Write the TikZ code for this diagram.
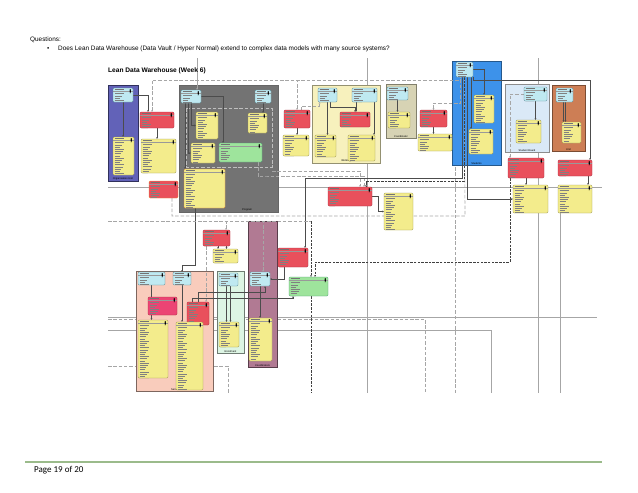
\documentclass[tikz,border=0pt]{standalone}
\usepackage{fontspec}
\setmainfont{Liberation Sans}
\newfontfamily\footfont{Carlito}
\usetikzlibrary{arrows.meta}

\definecolor{entY}{HTML}{F3EC8C}\definecolor{entYd}{HTML}{9C9650}
\definecolor{entB}{HTML}{BFE9F1}\definecolor{entBd}{HTML}{5C8C98}
\definecolor{entR}{HTML}{E9505C}\definecolor{entRd}{HTML}{A83040}
\definecolor{entG}{HTML}{9EE49C}\definecolor{entGd}{HTML}{4C9C74}
\definecolor{entO}{HTML}{E88A30}
\definecolor{grOrg}{HTML}{6262B8}\definecolor{grProg}{HTML}{737373}
\definecolor{grWork}{HTML}{F7F1BD}\definecolor{grCoor}{HTML}{D7D3B4}
\definecolor{grStud}{HTML}{3D92EA}\definecolor{grBoard}{HTML}{DAE9F7}
\definecolor{grUnit}{HTML}{CD7E55}\definecolor{grSer}{HTML}{F9CCBC}
\definecolor{grEnr}{HTML}{DDF5E4}\definecolor{grMauve}{HTML}{B17A93}
\definecolor{footgreen}{HTML}{9BBB8B}

\pgfdeclarelayer{bg}\pgfdeclarelayer{grp}\pgfdeclarelayer{cnl}
\pgfsetlayers{bg,grp,cnl,main}

\tikzset{
  erlines/.style={path picture={
    \draw[black!55, line width=0.3pt] ([shift={(1.5pt,-1.5pt)}]path picture bounding box.north west) -- ++(9pt,0);
    \draw[black!40, line width=0.3pt] ([yshift=-3pt]path picture bounding box.north west) -- ([yshift=-3pt]path picture bounding box.north east);
    \foreach \k in {1,...,30}
      \draw[black!50, line width=0.3pt] ([shift={(1.6pt,-3.3pt-\k*2.2pt)}]path picture bounding box.north west) -- ++({5pt+mod(\k*5,7)*0.8pt},0);
    \fill[black] ([shift={(-2.2pt,-1.2pt)}]path picture bounding box.north east) rectangle ++(-1.2pt,-4pt);
  }},
  ent/.style={draw, rounded corners=1.2pt, line width=0.4pt, anchor=north west, inner sep=0pt, outer sep=0pt, erlines},
  yent/.style={ent, fill=entY, draw=entYd},
  bent/.style={ent, fill=entB, draw=entBd},
  rent/.style={ent, fill=entR, draw=entRd},
  gent/.style={ent, fill=entG, draw=entGd},
  sz/.style 2 args={minimum width=#1pt, minimum height=#2pt},
  grp/.style={draw, line width=0.4pt, anchor=north west, inner sep=0pt, outer sep=0pt},
  glab/.style={font=\fontsize{2.6}{3}\selectfont, anchor=south, inner sep=0.5pt},
  ln/.style={black!35, line width=0.5pt},
  dl/.style={black!35, dash pattern=on 3.5pt off 1.8pt, line width=0.6pt},
  dd/.style={black!75, dash pattern=on 2.5pt off 1.2pt, line width=0.5pt},
  cn/.style={black!70, line width=0.4pt},
}

\begin{document}
\begin{tikzpicture}[x=1pt,y=-1pt,>={Stealth[length=1.8pt,width=1.6pt]}]
\useasboundingbox (0,0) rectangle (638,493);

% page text
\node[anchor=west, inner sep=0pt, font=\fontsize{6.4}{7}\selectfont] (quest) at (30,40) {Questions:};
\node[anchor=west, inner sep=0pt, font=\fontsize{6.4}{7}\selectfont] (bul) at (47,49) {•};
\node[anchor=west, inner sep=0pt, font=\fontsize{6.4}{7}\selectfont] (qtext) at (58,49) {Does Lean Data Warehouse (Data Vault / Hyper Normal) extend to complex data models with many source systems?};
\node[anchor=west, inner sep=0pt, font=\bfseries\fontsize{6.6}{7}\selectfont] (title) at (108,71) {Lean Data Warehouse (Week 6)};

% groups
\begin{pgfonlayer}{grp}
\node[grp, fill=grOrg, draw=grOrg!50!black, sz={30}{96}] (gorg) at (108,85) {};
\node[grp, fill=grProg, draw=black!60, sz={99}{127}] (gprog) at (179,85) {};
\node[grp, fill=grWork, draw=grWork!60!black, sz={68}{78}] (gwork) at (312,85) {};
\node[grp, fill=grCoor, draw=grCoor!60!black, sz={30}{54}] (gcoor) at (386,84) {};
\node[grp, fill=grStud, draw=grStud!60!black, sz={49}{104}] (gstud) at (452,61) {};
\node[grp, fill=grBoard, draw=black!45, sz={44}{68}] (gboard) at (505,84) {};
\node[grp, fill=grUnit, draw=grUnit!60!black, sz={33}{66}] (gunit) at (552,85) {};
\node[grp, fill=grSer, draw=grSer!50!black, sz={77}{120}] (gser) at (136,271) {};
\node[grp, fill=grEnr, draw=grEnr!50!black, sz={27}{82}] (genr) at (217,271) {};
\node[grp, fill=grMauve, draw=grMauve!50!black, sz={29}{146}] (gmauve) at (248,221) {};
\node[glab] at (gorg.south) {Organisation Unit};
\node[glab] at (gprog.south -| 247,0) {Program};
\node[glab] at (gwork.south) {Working};
\node[glab] at (gcoor.south) {Coordinator};
\node[glab] at (gstud.south) {Students};
\node[glab] at (gboard.south) {Student Board};
\node[glab] at (gunit.south) {Unit};
\node[glab] at (gser.south) {Serial};
\node[glab] at (genr.south) {Enrolment};
\node[glab] at (gmauve.south) {Coordinators};
\draw[dl, black!25] (186,108) rectangle (272,167); % inner box in Program
\end{pgfonlayer}

% entities
\node[bent, sz={20}{14}] (p1) at (113,88) {};
\node[yent, sz={21}{38}] (p2) at (113,137) {};
\node[rent, sz={34}{16}] (r1) at (140,112) {};
\node[yent, sz={35}{34}] (y1) at (141,139) {};
\node[rent, draw=entO, sz={29}{17}] (r2) at (149,181) {};
\node[bent, sz={20}{13}] (pg1) at (181,90) {};
\node[bent, sz={16}{13}] (pg2) at (255,90) {};
\node[yent, sz={22}{27}] (pg3) at (196,112) {};
\node[yent, sz={19}{20}] (pg4) at (248,113) {};
\node[yent, sz={24}{20}] (pg5) at (191,143) {};
\node[gent, sz={43}{19}] (pg6) at (219,143) {};
\node[yent, draw=entO, sz={41}{39}] (pg7) at (184,169) {};
\node[rent, sz={26}{18}] (r3) at (284,110) {};
\node[yent, sz={26}{21}] (y3) at (283,135) {};
\node[bent, sz={19}{14}] (w1) at (318,88) {};
\node[bent, sz={25}{14}] (w2) at (352,88) {};
\node[rent, sz={30}{15}] (w3) at (340,112) {};
\node[yent, sz={21}{22}] (w4) at (315,135) {};
\node[yent, sz={27}{26}] (w5) at (348,135) {};
\node[bent, sz={21}{13}] (c1) at (387,87) {};
\node[yent, sz={22}{16}] (c2) at (388,112) {};
\node[rent, sz={27}{17}] (r4) at (420,110) {};
\node[yent, sz={34}{17}] (y4) at (418,134) {};
\node[bent, sz={17}{15}] (s1) at (456,62) {};
\node[yent, sz={20}{28}] (s2) at (474,95) {};
\node[yent, sz={24}{25}] (s3) at (469,129) {};
\node[bent, sz={23}{14}] (sb1) at (524,87) {};
\node[yent, sz={25}{23}] (sb2) at (516,120) {};
\node[bent, sz={17}{14}] (u1) at (556,88) {};
\node[yent, sz={19}{21}] (u2) at (562,122) {};
\node[rent, sz={36}{20}] (r5) at (508,158) {};
\node[rent, sz={34}{16}] (r6) at (558,160) {};
\node[yent, sz={35}{28}] (y5) at (513,185) {};
\node[yent, sz={34}{28}] (y6) at (558,185) {};
\node[rent, sz={44}{19}] (r7) at (328,187) {};
\node[yent, sz={29}{37}] (y7) at (384,193) {};
\node[rent, sz={27}{16}] (r8) at (203,230) {};
\node[yent, sz={25}{14}] (y8) at (213,249) {};
\node[bent, sz={27}{13}] (se1) at (138,272) {};
\node[bent, sz={18}{13}] (se2) at (173,272) {};
\node[rent, fill=entR!85!magenta, sz={29}{18}] (se3) at (148,297) {};
\node[rent, sz={22}{23}] (se4) at (187,302) {};
\node[yent, sz={30}{58}] (se5) at (138,320) {};
\node[yent, sz={27}{68}] (se6) at (176,322) {};
\node[bent, sz={19}{13}] (e1) at (219,273) {};
\node[yent, sz={20}{25}] (e2) at (219,322) {};
\node[bent, sz={20}{14}] (m1) at (250,272) {};
\node[yent, sz={23}{43}] (m2) at (249,318) {};
\node[rent, sz={30}{19}] (r9) at (278,248) {};
\node[gent, sz={39}{19}] (g1) at (289,277) {};

% routing points
\coordinate (top1) at (197,58);
\coordinate (tdash) at (460,80);
\coordinate (k1) at (465,216);
\coordinate (k2) at (305,178);
\coordinate (k3) at (366,181);
\coordinate (k4) at (590,80);
\coordinate (k5) at (315,262);
\coordinate (k6) at (272,171);
\coordinate (k7) at (266,176);
\coordinate (k8) at (195,265);
\coordinate (k10) at (293,298);
\coordinate (k11) at (265,292);
\coordinate (k12) at (311,221);
\coordinate (left1) at (108,221);

% long lines behind everything
\begin{pgfonlayer}{bg}
\draw[ln] (108,187) -- (602,187);
\draw[ln] (108,317) -- (597,317);
\draw[ln] (108,330) -- (491,330) -- (491,393);
\draw[dl] (108,319) -- (425,319) -- (425,393);
\draw[dl] (108,366) -- (228,366) -- (228,393);
\draw[ln] (367,58) -- (367,393);
\draw[ln] (538,58) -- (538,393);
\draw[ln] (y6.south west) ++(2,0) -- ++(0,180);
\draw[dl] (s1.south) ++(-9,0) -- ++(0,316);
\end{pgfonlayer}

% connectors
\begin{pgfonlayer}{cnl}
\draw[cn,->] (p1.south) -- (p1.south |- p2.north);
\draw[cn,->] (p1.east) -| ([xshift=8pt]r1.north west);
\draw[dl,<-] ([xshift=12pt]r1.north west) |- (tdash);
\draw[cn,->] (r1.south) -- (r1.south |- y1.north);
\draw[dl] ([xshift=-6pt]r2.south east) |- (k1) -- (s1.south);
\draw[ln,->] (top1) -- (top1 |- pg1.north);
\draw[cn,->] ([xshift=4pt]pg1.south west) -- ([xshift=1pt]pg7.north west);
\draw[cn,->] ([xshift=7pt]pg1.south west) |- (pg5.west);
\draw[cn,->] ([xshift=10pt]pg1.south west) |- (pg3.west);
\draw[cn,->] (pg1.east) -| ([xshift=4pt]pg6.north west);
\draw[cn,->] (pg2.south) -- (pg2.south |- pg4.north);
\draw[dl,->] ([xshift=-4pt]pg6.south east) |- (k7) -| ([xshift=-8pt]r7.north east);
\draw[dl,->] (k6) -| ([xshift=-12pt]r7.north east);
\draw[cn,->] (r3.south) -- (r3.south |- y3.north);
\draw[dl,<-] (r3.north) -- ++(0,-30);
\draw[dl,->] ([xshift=4pt]r3.north) -- ++(0,-4) -| ([xshift=-8pt]w1.south);
\draw[cn,->] (w1.south) -- (w1.south |- w4.north);
\draw[cn,->] (w1.south) ++(3,0) -- ++(0,5) -| (w3.north);
\draw[cn,->] (w2.south east) ++(-3,0) -- ++(0,33);
\draw[cn,->] (w2.south west) ++(4,0) -- ++(0,10);
\draw[cn,->] (c1.south) -- (c1.south |- c2.north);
\draw[cn,->] (r4.south) -- (r4.south |- y4.north);
\draw[dl,<-] (r4.north) -- ++(0,-7) -| ([xshift=-4pt]s1.south);
\draw[cn,->] (s1.east) -| (s2.north);
\draw[cn,->] (s1.south east) ++(-2,0) -- ++(0,52);
\draw[cn,->] (s1.south) ++(2.5,0) |- (y5.west);
\draw[cn,->] (s1.south) ++(-2,0) |- (k2) -- (k2 |- r9.north);
\draw[dd,->] (s1.south) |- (k3) -- (k3 |- r7.north);
\draw[cn,->] (s1.south east) |- (k4) -- (k4 |- r6.north);
\draw[cn,->] (sb1.south) -- (sb1.south |- sb2.north);
\draw[dl,->] (sb1.west) -| ([xshift=2pt]r5.north west);
\draw[cn,->] (u1.south) ++(-1,0) -- ++(0,20);
\draw[cn,->] (u1.south) ++(1,0) -- ++(0,20);
\draw[cn,->] (r5.south) -- (r5.south |- y5.north);
\draw[cn,->] (r6.south east) ++(-4,0) -- ++(0,9);
\draw[dd,->] ([xshift=2pt]r5.south west) |- (k5) -- (k5 |- g1.north);
\draw[cn,->] (r7.east) -- ++(6,0) |- (y7.west);
\draw[cn,->] (r8.south) ++(1.5,0) -- ++(0,3);
\draw[cn,->] (r8.south) ++(10,0) -- ++(0,3);
\draw[dl,<-] ([xshift=-4pt]r8.north east) -- ++(0,-9);
\draw[dl,->] (r8.south west) ++(3,0) -- ++(0,56);
\draw[cn,->] ([xshift=-9.5pt]pg7.south) -- (k8) -| (se2.north);
\draw[cn,->] (se1.south) -- (se1.south |- se5.north);
\draw[cn,->] (se2.south) -- (se2.south |- se6.north);
\draw[cn,->] (se4.north west) ++(5,0) |- (k10) -- (k10 |- g1.south);
\draw[cn,->] (se4.north) |- (k11) -- (k11 |- m1.south);
\draw[cn,->] (e1.south) ++(-2,0) -- ++(0,36);
\draw[cn,->] (e1.south) ++(2,0) -- ++(0,36);
\draw[cn,->] (m1.south) -- (m1.south |- m2.north);
\draw[dl,<-] (m1.north) ++(3,0) -- ++(0,-51);
\draw[cn,->] (r9.south west) ++(6,0) |- (m1.east);
\draw[dl] (left1) -- (k12);
\draw[dd,->] (k12) -- (k12 |- g1.north);
\draw[dd] (g1.south) ++(3,0) -- ++(0,97);
\end{pgfonlayer}

% footer
\draw[footgreen, line width=1.2pt] (25,462) -- (602,462);
\node[anchor=west, inner sep=0pt, font=\footfont\fontsize{9}{10}\selectfont] (page) at (34,470) {Page 19 of 20};
\end{tikzpicture}
\end{document}
